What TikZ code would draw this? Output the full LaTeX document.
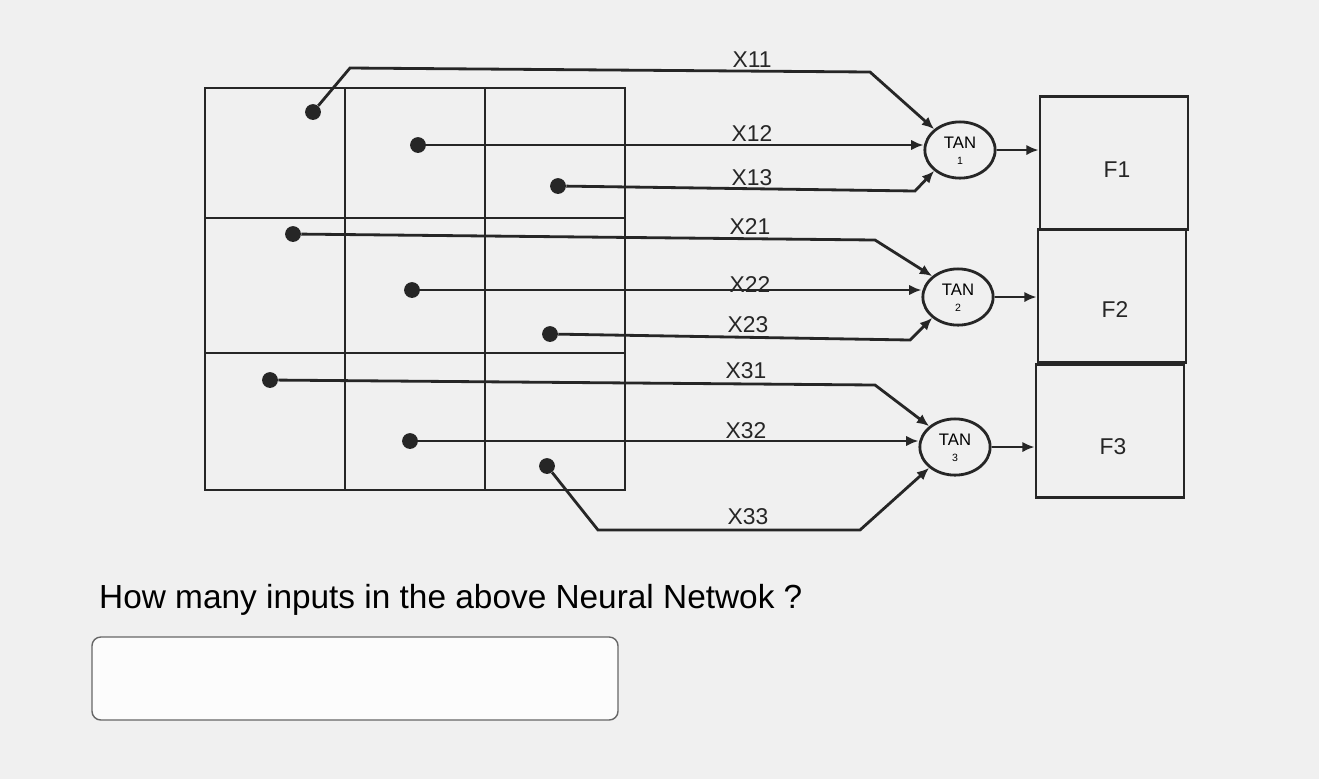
\documentclass[tikz,border=0pt]{standalone}
\usepackage{fontspec}
\setmainfont{Liberation Sans}
\usetikzlibrary{arrows.meta,shapes.geometric}
\begin{document}
\begin{tikzpicture}[x=0.02cm,y=-0.02cm,
 ln/.style={line width=1.6pt,black!85},
 arr/.style={ln,-{Latex[length=7pt,width=6pt]}},
 dot/.style={circle,fill=black!85,inner sep=0pt,minimum size=9pt},
 tan/.style={ellipse,draw,line width=1.6pt,black!85,minimum width=40pt,minimum height=32pt,inner sep=0pt},
 tl/.style={font=\fontsize{9.5}{9.5}\selectfont,inner sep=0pt},
 tn/.style={font=\fontsize{6}{6}\selectfont,inner sep=0pt},
 lab/.style={font=\fontsize{13}{13}\selectfont,text=black!85},
 fb/.style={draw,line width=1.6pt,black!85,minimum width=148*0.02cm,minimum height=133*0.02cm}]
\fill[black!6] (0,0) rectangle (1319,779);
\useasboundingbox (0,0) rectangle (1319,779);
% grid
\draw[ln] (205,88) rectangle (625,490);
\foreach \x in {345,485} \draw[ln] (\x,88) -- (\x,490);
\foreach \y in {218,353} \draw[ln] (205,\y) -- (625,\y);
% dots
\node[dot] (d11) at (313,112) {}; \node[dot] (d12) at (418,145) {}; \node[dot] (d13) at (558,186) {};
\node[dot] (d21) at (293,234) {}; \node[dot] (d22) at (412,290) {}; \node[dot] (d23) at (550,334) {};
\node[dot] (d31) at (270,380) {}; \node[dot] (d32) at (410,441) {}; \node[dot] (d33) at (547,466) {};
% TAN
\node[tan] (t1) at (960,150) {};
\node[tan] (t2) at (958,297) {};
\node[tan] (t3) at (955,447) {};
\foreach \i in {1,2,3} {
  \node[tl] (tl\i) at ([yshift=4pt]t\i.center) {TAN};
  \node[tn] (tn\i) at ([yshift=-6pt]t\i.center) {\i};
}
% F boxes
\node[fb] (f1) at (1114,163) {};
\node[fb] (f2) at (1112,296) {};
\node[fb] (f3) at (1110,431) {};
\node[lab] (fl1) at (1117,170) {F1};
\node[lab] (fl2) at (1115,310) {F2};
\node[lab] (fl3) at (1113,447) {F3};
\foreach \i in {1,2,3} \draw[arr] (t\i) -- (f\i.west |- t\i);
% connections
\coordinate (c11a) at (350,68); \coordinate (c11b) at (870,72);
\draw[arr] (d11) -- (c11a) -- (c11b) -- (t1.north west);
\draw[arr] (d12) -- (d12 -| t1.west);
\coordinate (c13) at (915,191);
\draw[arr] (d13) -- (c13) -- (t1.south west);
\coordinate (c21) at (875,240);
\draw[arr] (d21) -- (c21) -- (t2.north west);
\draw[arr] (d22) -- (d22 -| t2.west);
\coordinate (c23) at (910,340);
\draw[arr] (d23) -- (c23) -- (t2.south west);
\coordinate (c31) at (875,385);
\draw[arr] (d31) -- (c31) -- (t3.north west);
\draw[arr] (d32) -- (d32 -| t3.west);
\coordinate (c33a) at (598,530); \coordinate (c33b) at (860,530);
\draw[arr] (d33) -- (c33a) -- (c33b) -- (t3.south west);
% labels
\node[lab] (x11) at (752,60) {X11};
\node[lab] (x12) at (752,134) {X12};
\node[lab] (x13) at (752,178) {X13};
\node[lab] (x21) at (750,227) {X21};
\node[lab] (x22) at (750,285) {X22};
\node[lab] (x23) at (748,325) {X23};
\node[lab] (x31) at (746,371) {X31};
\node[lab] (x32) at (746,431) {X32};
\node[lab] (x33) at (748,517) {X33};
% question
\node[anchor=west,font=\fontsize{19}{19}\selectfont] (q) at (93,600) {How many inputs in the above Neural Netwok ?};
\draw[black!60,line width=0.8pt,rounded corners=5pt,fill=white!60!black!3] (92,637) rectangle (618,720);
\end{tikzpicture}
\end{document}
